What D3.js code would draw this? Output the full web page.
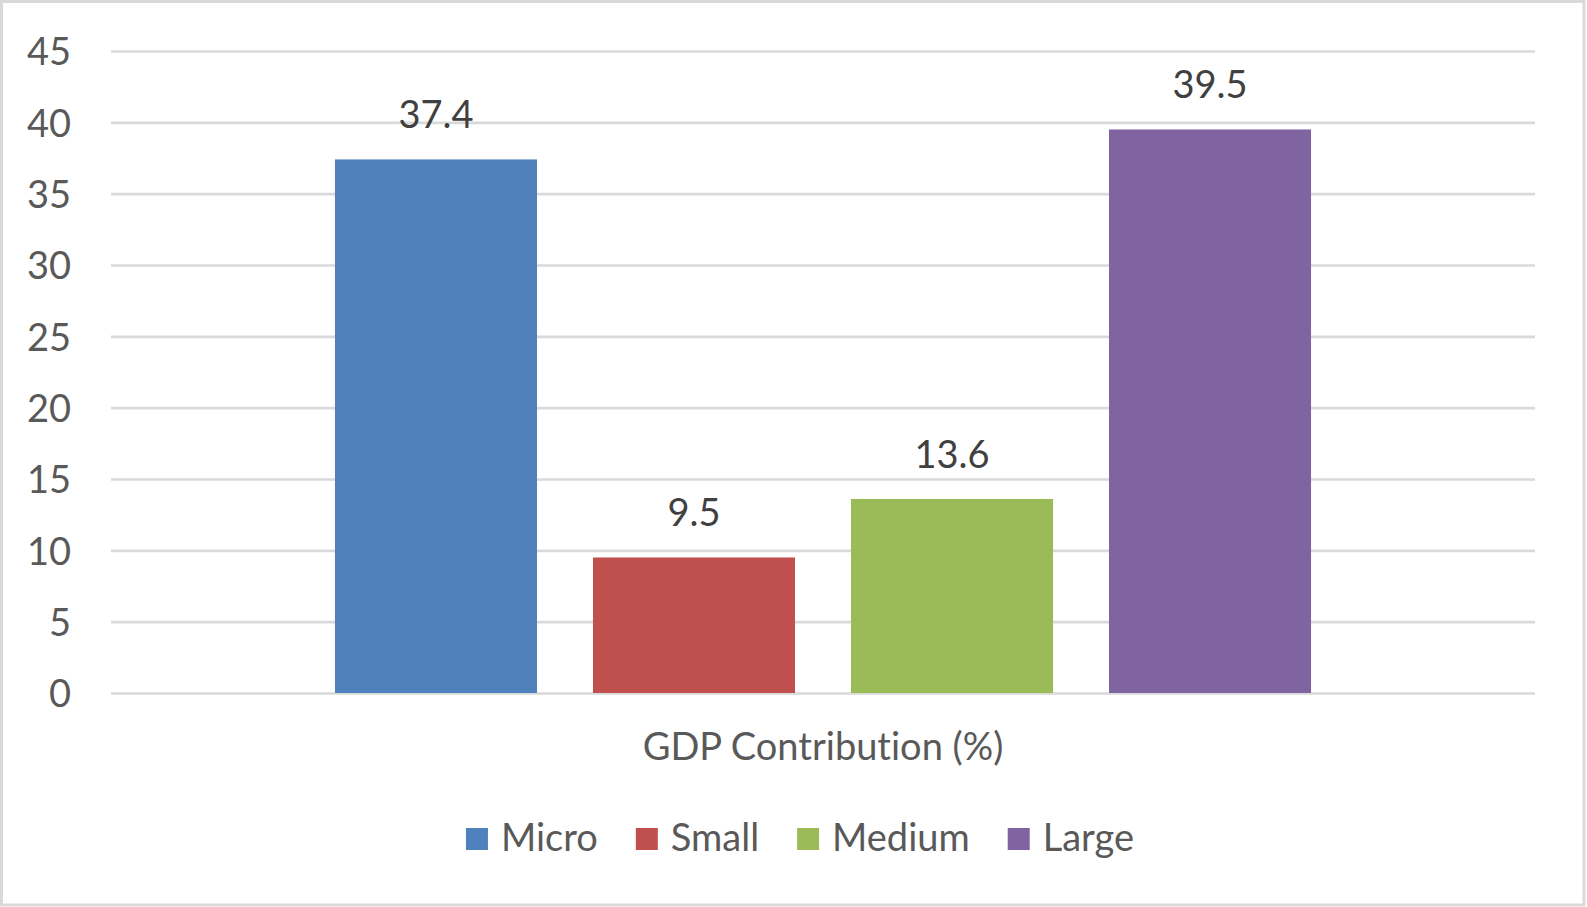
<!DOCTYPE html>
<html>
<head>
<meta charset="utf-8">
<script src="https://cdn.jsdelivr.net/npm/d3@7"></script>
<style>
  html, body { margin: 0; padding: 0; background: #fff; }
  svg { display: block; font-family: Lato, "Open Sans", sans-serif; font-variant-ligatures: none; font-feature-settings: "liga" 0, "clig" 0; }
  svg text { font-variant-ligatures: none; }
</style>
</head>
<body>
<svg id="chart" width="1587" height="907"></svg>
<script>
const seriesNames = ["Micro", "Small", "Medium", "Large"];
const seriesValues = [37.4, 9.5, 13.6, 39.5];
const seriesColors = ["#4f81bd", "#c0504d", "#9bbb59", "#8064a2"];
const yTicks = [0, 5, 10, 15, 20, 25, 30, 35, 40, 45];
const categoryLabel = "GDP Contribution (%)";

const svg = d3.select("#chart");
const W = 1587, H = 907;
const plot = { left: 111, right: 1535, top: 51, bottom: 693 };
const fontSize = 38;

// chart border
svg.append("rect")
  .attr("x", 1.5).attr("y", 1.5)
  .attr("width", W - 4.5).attr("height", H - 3.5)
  .attr("fill", "#fff").attr("stroke", "#d9d9d9").attr("stroke-width", 3);

const y = d3.scaleLinear().domain([0, 45]).range([plot.bottom, plot.top]);
const x = d3.scaleBand().domain(seriesNames)
  .range([plot.left, plot.right])
  .paddingInner(0.217).paddingOuter(0.868);

// gridlines + axis labels via d3 axis
const yAxis = d3.axisLeft(y).tickValues(yTicks)
  .tickSize(-(plot.right - plot.left)).tickPadding(40).tickFormat(d3.format("d"));
const gy = svg.append("g").attr("transform", `translate(${plot.left},0)`).call(yAxis);
gy.select(".domain").remove();
gy.selectAll(".tick line").attr("stroke", "#d9d9d9").attr("stroke-width", 2.6);
gy.selectAll(".tick text")
  .attr("fill", "#595959").attr("font-size", fontSize)
  .attr("font-family", "Lato, 'Open Sans', sans-serif")
  .attr("dy", "0.36em");

// bars
svg.append("g").selectAll("rect")
  .data(seriesNames)
  .join("rect")
  .attr("x", d => x(d))
  .attr("width", x.bandwidth())
  .attr("y", (d, i) => y(seriesValues[i]))
  .attr("height", (d, i) => y(0) - y(seriesValues[i]))
  .attr("fill", (d, i) => seriesColors[i]);

// data labels
svg.append("g").selectAll("text")
  .data(seriesNames)
  .join("text")
  .attr("x", d => x(d) + x.bandwidth() / 2)
  .attr("y", (d, i) => y(seriesValues[i]) - 31)
  .attr("text-anchor", "middle")
  .attr("font-size", fontSize)
  .attr("fill", "#404040")
  .text((d, i) => seriesValues[i].toFixed(1));

// category label
svg.append("text")
  .attr("x", (plot.left + plot.right) / 2)
  .attr("y", 760)
  .attr("text-anchor", "middle")
  .attr("font-size", fontSize)
  .attr("fill", "#595959")
  .text(categoryLabel);

// legend
const legend = svg.append("g");
const sq = 22, gapSqText = 13, gapItem = 38;
const items = legend.selectAll("g").data(seriesNames).join("g");
items.append("rect")
  .attr("width", sq).attr("height", sq)
  .attr("y", 828)
  .attr("fill", (d, i) => seriesColors[i]);
items.append("text")
  .attr("x", sq + gapSqText)
  .attr("y", 851)
  .attr("font-size", fontSize)
  .attr("fill", "#595959")
  .text(d => d);
let widths = [];
items.each(function() { widths.push(sq + gapSqText + d3.select(this).select("text").node().getComputedTextLength()); });
const total = d3.sum(widths) + gapItem * (widths.length - 1);
let cx = 800 - total / 2;
items.attr("transform", (d, i) => {
  const t = `translate(${cx},0)`;
  cx += widths[i] + gapItem;
  return t;
});
</script>
</body>
</html>
